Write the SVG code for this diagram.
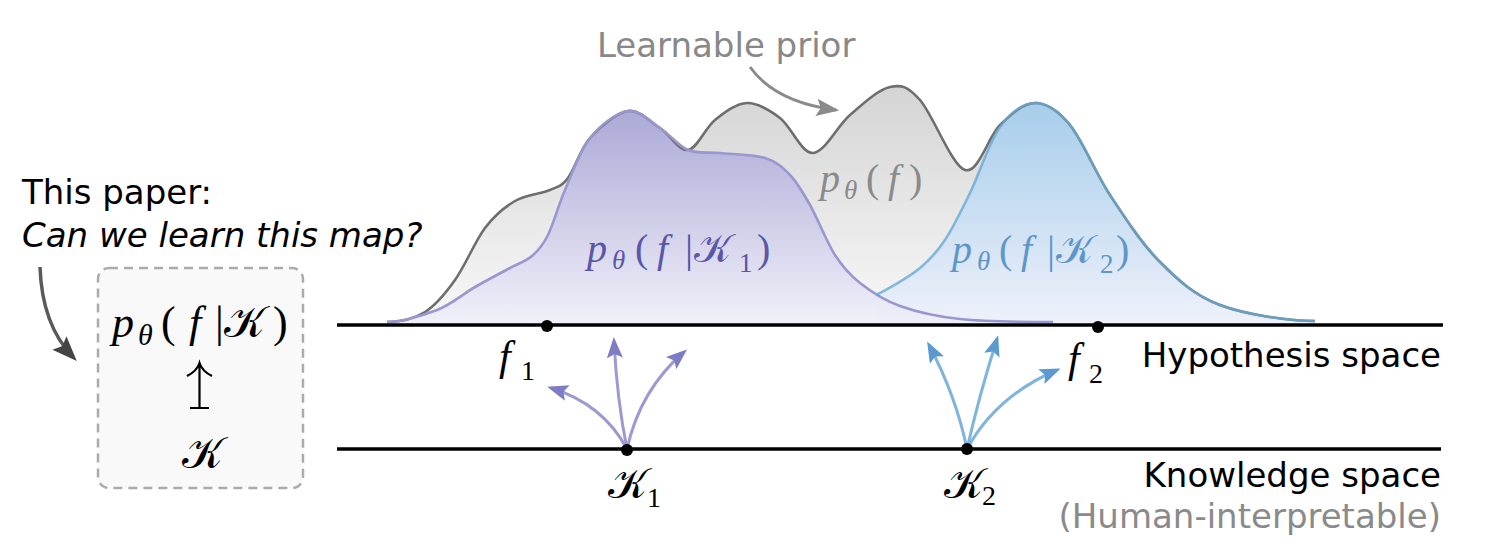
<svg xmlns="http://www.w3.org/2000/svg" width="1492" height="552" viewBox="0 0 1492 552">
<style>
.sans{font-family:"DejaVu Sans","Liberation Sans",sans-serif;font-size:34px}
.m{font-family:"Liberation Serif","DejaVu Serif",serif}
.i{font-style:italic}
.k{font-style:normal;font-weight:normal}
.axis{stroke:#000;stroke-width:3.5;fill:none}
.dot{fill:#000}
.pa{fill:none;stroke:#9d9ad2;stroke-width:3}
.ba{fill:none;stroke:#7fb4dc;stroke-width:3}
</style>
<defs>
<linearGradient id="gGray" x1="0" y1="85" x2="0" y2="324" gradientUnits="userSpaceOnUse">
<stop offset="0" stop-color="#d4d4d4"/><stop offset="1" stop-color="#f8f8f8"/>
</linearGradient>
<linearGradient id="gPur" x1="0" y1="110" x2="0" y2="324" gradientUnits="userSpaceOnUse">
<stop offset="0" stop-color="#a7a5d6"/><stop offset="1" stop-color="#f0f0fa"/>
</linearGradient>
<linearGradient id="gBlue" x1="0" y1="103" x2="0" y2="324" gradientUnits="userSpaceOnUse">
<stop offset="0" stop-color="#a6cdea"/><stop offset="1" stop-color="#eff1fb"/>
</linearGradient>
<marker id="hP" markerUnits="userSpaceOnUse" markerWidth="22" markerHeight="18" refX="17" refY="8" orient="auto" viewBox="0 0 22 16">
<path d="M0,0 L21,8 L0,16 L4,8 z" fill="#7f7bc4"/>
</marker>
<marker id="hB" markerUnits="userSpaceOnUse" markerWidth="22" markerHeight="18" refX="17" refY="8" orient="auto" viewBox="0 0 22 16">
<path d="M0,0 L21,8 L0,16 L4,8 z" fill="#5a9ad0"/>
</marker>
<marker id="hG" markerUnits="userSpaceOnUse" markerWidth="24" markerHeight="20" refX="18" refY="8" orient="auto" viewBox="0 0 22 16">
<path d="M0,0 L21,8 L0,16 L4,8 z" fill="#8a8a8a"/>
</marker>
<marker id="hD" markerUnits="userSpaceOnUse" markerWidth="26" markerHeight="22" refX="18" refY="9" orient="auto" viewBox="0 0 24 18">
<path d="M0,0 L23,9 L0,18 L4,9 z" fill="#444"/>
</marker>
</defs>

<g id="distributions">
<path id="priorFill" fill="url(#gGray)" d="M387,322 C400,322 413.7,319 425,312 C436.3,305 445,294 455,280 C465,266 475,241.2 485,228 C495,214.8 504.2,207.3 515,201 C525.8,194.7 541.2,193.8 550,190 C558.8,186.2 561.3,186.7 568,178 C574.7,169.3 580,149.2 590,138 C600,126.8 616.3,112.7 628,111 C639.7,109.3 650,121.5 660,128 C670,134.5 678.8,151.3 688,150 C697.2,148.7 705.2,127.8 715,120 C724.8,112.2 736.2,103.3 747,103 C757.8,102.7 769,109.7 780,118 C791,126.3 801.3,153.5 813,153 C824.7,152.5 837.2,126 850,115 C862.8,104 878.3,89.5 890,87 C901.7,84.5 907.5,86.2 920,100 C932.5,113.8 951.7,165.8 965,170 C978.3,174.2 988.3,136.2 1000,125 C1011.7,113.8 1023.3,103 1035,103 C1046.7,103 1057.5,109.7 1070,125 C1082.5,140.3 1095,172.2 1110,195 C1125,217.8 1141.7,243.7 1160,262 C1178.3,280.3 1194.2,295.2 1220,305 C1245.8,314.8 1290,321 1315,321 L1315,324 L387,324 Z"/>
<path id="k2Fill" fill="url(#gBlue)" d="M876,295 C884,291 908.7,277.5 920,268 C931.3,258.5 936.7,252.5 945,240 C953.3,227.5 960.8,211.8 970,193 C979.2,174.2 989.2,142 1000,127 C1010.8,112 1023.3,103.3 1035,103 C1046.7,102.7 1057.5,109.7 1070,125 C1082.5,140.3 1095,172.2 1110,195 C1125,217.8 1141.7,243.7 1160,262 C1178.3,280.3 1194.2,295.2 1220,305 C1245.8,314.8 1290,321 1315,321 L1315,324 L876,324 Z"/>
<path id="k1Fill" fill="url(#gPur)" fill-opacity="0.92" d="M387,322 C400,322 422.3,315.8 437,310 C451.7,304.2 463.2,293.8 475,287 C486.8,280.2 498.5,274.2 508,269 C517.5,263.8 525.3,261.7 532,256 C538.7,250.3 542.5,246 548,235 C553.5,224 558,206.2 565,190 C572,173.8 579.5,151.2 590,138 C600.5,124.8 616.3,112.7 628,111 C639.7,109.3 650,121.5 660,128 C670,134.5 678,145.8 688,150 C698,154.2 707.2,151.7 720,153 C732.8,154.3 753.3,154.3 765,158 C776.7,161.7 782.5,167.2 790,175 C797.5,182.8 802.5,191.7 810,205 C817.5,218.3 826.7,242 835,255 C843.3,268 849.2,274.5 860,283 C870.8,291.5 883.3,300 900,306 C916.7,312 934.5,316.3 960,319 C985.5,321.7 1030,322 1053,322 L1053,324 L387,324 Z"/>
<path id="priorLine" fill="none" stroke="#6e6e6e" stroke-width="2.6" d="M387,322 C400,322 413.7,319 425,312 C436.3,305 445,294 455,280 C465,266 475,241.2 485,228 C495,214.8 504.2,207.3 515,201 C525.8,194.7 541.2,193.8 550,190 C558.8,186.2 561.3,186.7 568,178 C574.7,169.3 580,149.2 590,138 C600,126.8 616.3,112.7 628,111 C639.7,109.3 650,121.5 660,128 C670,134.5 678.8,151.3 688,150 C697.2,148.7 705.2,127.8 715,120 C724.8,112.2 736.2,103.3 747,103 C757.8,102.7 769,109.7 780,118 C791,126.3 801.3,153.5 813,153 C824.7,152.5 837.2,126 850,115 C862.8,104 878.3,89.5 890,87 C901.7,84.5 907.5,86.2 920,100 C932.5,113.8 951.7,165.8 965,170 C978.3,174.2 988.3,136.2 1000,125 C1011.7,113.8 1023.3,103 1035,103 C1046.7,103 1057.5,109.7 1070,125 C1082.5,140.3 1095,172.2 1110,195 C1125,217.8 1141.7,243.7 1160,262 C1178.3,280.3 1194.2,295.2 1220,305 C1245.8,314.8 1290,321 1315,321"/>
<path id="k1Line" fill="none" stroke="#9a97cf" stroke-width="2.6" d="M387,322 C400,322 422.3,315.8 437,310 C451.7,304.2 463.2,293.8 475,287 C486.8,280.2 498.5,274.2 508,269 C517.5,263.8 525.3,261.7 532,256 C538.7,250.3 542.5,246 548,235 C553.5,224 558,206.2 565,190 C572,173.8 579.5,151.2 590,138 C600.5,124.8 616.3,112.7 628,111 C639.7,109.3 650,121.5 660,128 C670,134.5 678,145.8 688,150 C698,154.2 707.2,151.7 720,153 C732.8,154.3 753.3,154.3 765,158 C776.7,161.7 782.5,167.2 790,175 C797.5,182.8 802.5,191.7 810,205 C817.5,218.3 826.7,242 835,255 C843.3,268 849.2,274.5 860,283 C870.8,291.5 883.3,300 900,306 C916.7,312 934.5,316.3 960,319 C985.5,321.7 1030,322 1053,322"/>
<path id="k2Line" fill="none" stroke="#6aa9d3" stroke-width="2.6" stroke-opacity="0.8" d="M876,295 C884,291 908.7,277.5 920,268 C931.3,258.5 936.7,252.5 945,240 C953.3,227.5 960.8,211.8 970,193 C979.2,174.2 989.2,142 1000,127 C1010.8,112 1023.3,103.3 1035,103 C1046.7,102.7 1057.5,109.7 1070,125 C1082.5,140.3 1095,172.2 1110,195 C1125,217.8 1141.7,243.7 1160,262 C1178.3,280.3 1194.2,295.2 1220,305 C1245.8,314.8 1290,321 1315,321"/>
</g>

<g id="axes">
<line class="axis" x1="337" y1="325" x2="1443" y2="325"/>
<line class="axis" x1="337" y1="449" x2="1441" y2="449"/>
</g>

<g id="connectors">
<path class="pa" marker-end="url(#hP)" d="M627,449 Q603,404 551,388"/>
<path class="pa" marker-end="url(#hP)" d="M627,449 Q617,400 614,341"/>
<path class="pa" marker-end="url(#hP)" d="M627,449 Q640,390 684,352"/>
<path class="ba" marker-end="url(#hB)" d="M967,449 Q956,396 929,345"/>
<path class="ba" marker-end="url(#hB)" d="M967,449 Q979,396 997,339"/>
<path class="ba" marker-end="url(#hB)" d="M967,449 Q996,396 1057,370"/>
<path fill="none" stroke="#8a8a8a" stroke-width="3" marker-end="url(#hG)" d="M750,67 Q775,102 836,110"/>
<path fill="none" stroke="#5a5a5a" stroke-width="3.5" marker-end="url(#hD)" d="M40,267 Q42,325 73,357"/>
</g>

<g id="points">
<circle class="dot" cx="547" cy="326" r="6"/>
<circle class="dot" cx="1098" cy="327" r="6"/>
<circle class="dot" cx="627" cy="450" r="6"/>
<circle class="dot" cx="967" cy="449" r="6"/>
</g>

<g id="mapBox">
<rect x="98" y="268" width="205" height="220" rx="11" fill="#f9f9f9" stroke="#ababab" stroke-width="2.5" stroke-dasharray="9 6"/>
<text class="m" font-size="44" fill="#000"><tspan class="i" x="112" y="337">p</tspan><tspan class="i" x="138" y="345" font-size="30">θ</tspan><tspan x="161" y="337">(</tspan><tspan class="i" x="189" y="337">f</tspan><tspan x="215" y="337">|</tspan><tspan class="k" x="224" y="337">𝒦</tspan><tspan x="273" y="337">)</tspan></text>
<path d="M199.5,408 V364 M190,408 H209 M187,376 Q197,371 199.5,363 Q202,371 212,376" fill="none" stroke="#000" stroke-width="2.2"/>
<text class="m k" font-size="44" x="182" y="468">𝒦</text>
</g>

<g id="labels">
<text class="sans" x="597" y="57" fill="#888">Learnable prior</text>
<text class="sans" x="22" y="204" fill="#000">This paper:</text>
<text class="sans" x="22" y="247" fill="#000" font-style="italic">Can we learn this map?</text>
<text class="sans" x="1441" y="367" text-anchor="end" fill="#000">Hypothesis space</text>
<text class="sans" x="1441" y="487" text-anchor="end" fill="#000">Knowledge space</text>
<text class="sans" x="1441" y="528" text-anchor="end" fill="#8a8a8a">(Human-interpretable)</text>

<text class="m" font-size="40" fill="#8a8a8a"><tspan class="i" x="820" y="192">p</tspan><tspan class="i" x="844" y="199" font-size="27">θ</tspan><tspan x="866" y="192">(</tspan><tspan class="i" x="888" y="192">f</tspan><tspan x="909" y="192">)</tspan></text>
<text class="m" font-size="40" fill="#5b56a8"><tspan class="i" x="587" y="262">p</tspan><tspan class="i" x="612" y="269" font-size="27">θ</tspan><tspan x="635" y="262">(</tspan><tspan class="i" x="657" y="262">f</tspan><tspan x="685" y="262">|</tspan><tspan class="k" x="694" y="262">𝒦</tspan><tspan x="739" y="272" font-size="27">1</tspan><tspan x="757" y="262">)</tspan></text>
<text class="m" font-size="40" fill="#5e96c7"><tspan class="i" x="952" y="263">p</tspan><tspan class="i" x="977" y="270" font-size="27">θ</tspan><tspan x="999" y="263">(</tspan><tspan class="i" x="1021" y="263">f</tspan><tspan x="1047" y="263">|</tspan><tspan class="k" x="1056" y="263">𝒦</tspan><tspan x="1100" y="273" font-size="27">2</tspan><tspan x="1116" y="263">)</tspan></text>

<text class="m" font-size="42" fill="#000"><tspan class="i" x="499" y="370">f</tspan><tspan x="521" y="380" font-size="28">1</tspan></text>
<text class="m" font-size="42" fill="#000"><tspan class="i" x="1068" y="372">f</tspan><tspan x="1089" y="383" font-size="28">2</tspan></text>
<text class="m" font-size="42" fill="#000"><tspan class="k" x="608" y="498">𝒦</tspan><tspan x="647" y="507" font-size="28">1</tspan></text>
<text class="m" font-size="42" fill="#000"><tspan class="k" x="944" y="498">𝒦</tspan><tspan x="982" y="505" font-size="28">2</tspan></text>
</g>
</svg>
